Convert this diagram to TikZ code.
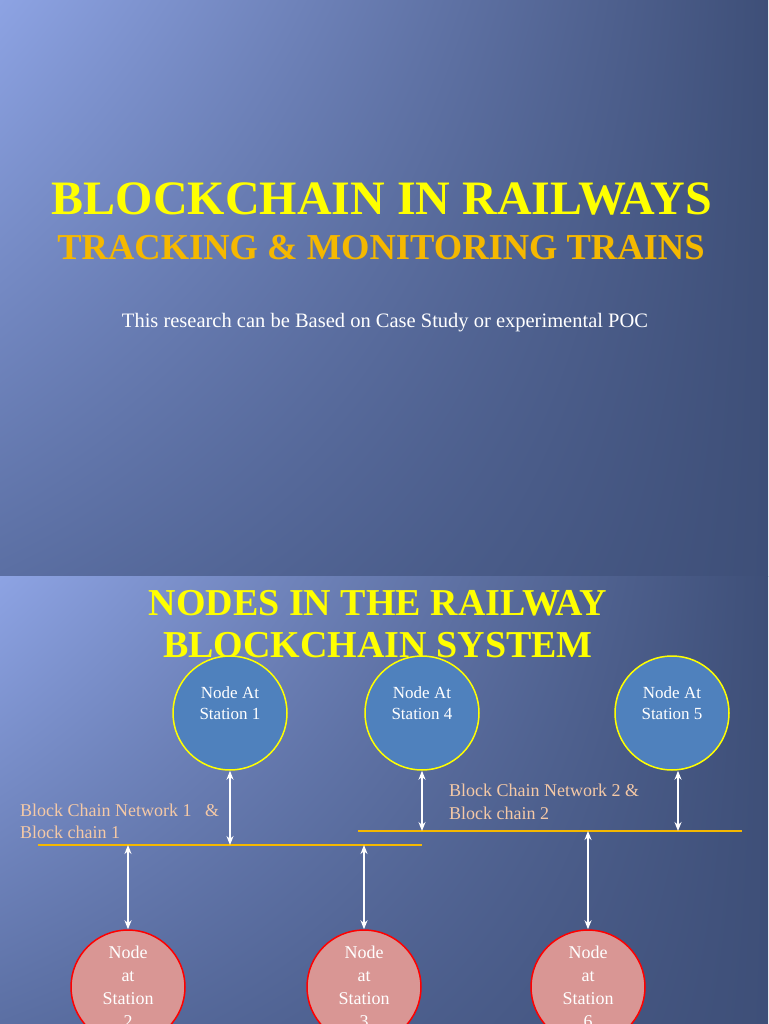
\documentclass[tikz,border=0pt]{standalone}
\usepackage{fontspec}
\setmainfont{Liberation Serif}
\usetikzlibrary{arrows.meta,shadings}
\definecolor{bgA}{HTML}{8DA3E3}
\definecolor{bgB}{HTML}{5B6FA3}
\definecolor{bgC}{HTML}{3E4F78}
\definecolor{ttl}{HTML}{FFFF00}
\definecolor{sub}{HTML}{F5B800}
\definecolor{peach}{HTML}{F5C9A6}
\definecolor{bnode}{HTML}{4F81BD}
\definecolor{pnode}{HTML}{D99694}
\definecolor{oline}{HTML}{F5B800}
\tikzset{
 bn/.style={circle,draw=ttl,line width=1.5pt,fill=bnode,minimum size=114pt,inner sep=0pt,align=center,text=white,font=\fontsize{17}{21}\selectfont},
 pn/.style={circle,draw=red,line width=1.5pt,fill=pnode,minimum size=114pt,inner sep=0pt,align=center,text=white,font=\fontsize{18}{23}\selectfont},
 lbl/.style={anchor=west,text=peach,font=\fontsize{18}{22}\selectfont,inner sep=0pt},
 tt/.style={text=ttl,font=\bfseries\fontsize{38}{44}\selectfont},
 arr/.style={white,line width=1.5pt,{Stealth[length=9pt,width=7pt]}-{Stealth[length=9pt,width=7pt]}},
 ol/.style={oline,line width=2pt}
}
\begin{document}
\begin{tikzpicture}[x=1pt,y=-1pt]
\useasboundingbox (0,0) rectangle (768,1024);
\clip (0,0) rectangle (768,1024);
\shade[upper left=bgA,upper right=bgC,lower left=bgB,lower right=bgC] (0,0) rectangle (768,576);
\shade[upper left=bgA,upper right=bgC,lower left=bgB,lower right=bgC] (0,576) rectangle (768,1024);
\node[text=ttl,font=\bfseries\fontsize{48}{55}\selectfont] (t1) at (382,199) {BLOCKCHAIN IN RAILWAYS};
\node[text=sub,font=\bfseries\fontsize{36.5}{40}\selectfont] (t2) at (381,248) {TRACKING \& MONITORING TRAINS};
\node[text=white,font=\fontsize{20.5}{24}\selectfont] (t3) at (385,323) {This research can be Based on Case Study or experimental POC};
\node[tt,align=center] (t4) at (378,624) {NODES IN THE RAILWAY\\[-2pt]BLOCKCHAIN SYSTEM};
\node[bn] (s1) at (230,713) {};
\node[bn] (s4) at (422,713) {};
\node[bn] (s5) at (672,713) {};
\node[text=white,align=center,font=\fontsize{17}{21}\selectfont] (s1t) at (230,703) {Node At\\Station 1};
\node[text=white,align=center,font=\fontsize{17}{21}\selectfont] (s4t) at (422,703) {Node At\\Station 4};
\node[text=white,align=center,font=\fontsize{17}{21}\selectfont] (s5t) at (672,703) {Node At\\Station 5};
\node[pn] (s2) at (128,987) {Node\\at\\Station\\2};
\node[pn] (s3) at (364,987) {Node\\at\\Station\\3};
\node[pn] (s6) at (588,987) {Node\\at\\Station\\6};
\coordinate (l1a) at (38,845); \coordinate (l1b) at (422,845);
\coordinate (l2a) at (358,831); \coordinate (l2b) at (742,831);
\draw[ol] (l1a) -- (l1b);
\draw[ol] (l2a) -- (l2b);
\coordinate (a1) at (230,845); \coordinate (a4) at (422,831); \coordinate (a5) at (678,831);
\coordinate (a2) at (128,845); \coordinate (a3) at (364,845); \coordinate (a6) at (588,831);
\draw[arr] (s1.south) -- (a1);
\draw[arr] (s4.south) -- (a4);
\draw[arr] (s5.south -| a5) -- (a5);
\draw[arr] (a2) -- (s2.north);
\draw[arr] (a3) -- (s3.north);
\draw[arr] (a6) -- (s6.north);
\node[lbl] (n1) at (20,810) {Block Chain Network 1 \ \ \&};
\node[lbl] (n1b) at (20,832) {Block chain 1};
\node[lbl] (n2) at (449,790) {Block Chain Network 2 \&};
\node[lbl] (n2b) at (449,813) {Block chain 2};
\end{tikzpicture}
\end{document}
